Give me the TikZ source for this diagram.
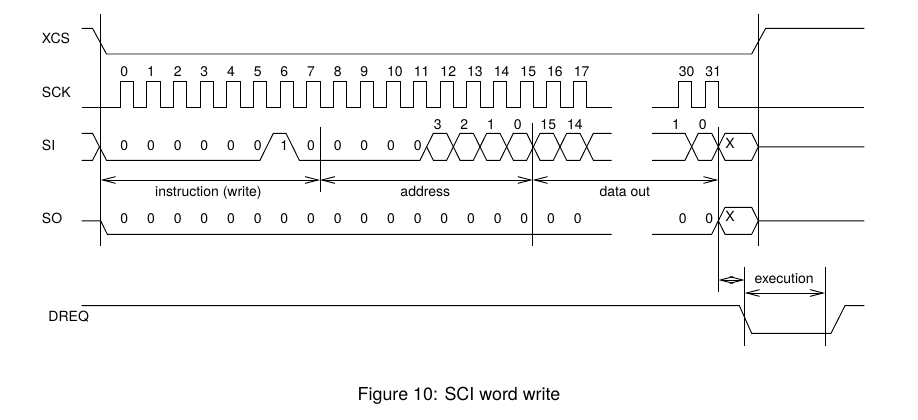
\documentclass[tikz,border=0pt]{standalone}
\usepackage{fontspec}
\setmainfont{TeX Gyre Heros}
\usetikzlibrary{arrows.meta}
\begin{document}
\begin{tikzpicture}[x=0.75pt,y=-0.75pt,line width=0.7pt,
  lbl/.style={anchor=base west,inner sep=0pt,font=\fontsize{10.5}{12}\selectfont},
  ctr/.style={anchor=base,inner sep=0pt,font=\fontsize{10.5}{12}\selectfont},
  barb/.tip={Straight Barb[length=9.75pt,width=5pt]},
  dim/.style={barb-barb},
  sig/.style={line join=miter}]
\useasboundingbox (0,0) rectangle (918,420);
% signal names
\node[lbl] (nxcs) at (41.5,44) {XCS};
\node[lbl] (nsck) at (41.5,97.7) {SCK};
\node[lbl] (nsi) at (41.5,150.7) {SI};
\node[lbl] (nso) at (41.5,223.3) {SO};
\node[lbl] (ndreq) at (48,321.7) {DREQ};
% XCS
\draw[sig] (81.67,28.3) -- (92.5,28.3) -- (106.5,54) -- (751.67,54) -- (765.67,28.3) -- (864.33,28.3);
% SCK
\draw[sig] (81.67,107.3) foreach \k in {0,...,17} { -- ({120+26.667*\k},107.3) -- ({120+26.667*\k},81) -- ({133.33+26.667*\k},81) -- ({133.33+26.667*\k},107.3) } -- (611.67,107.3);
\draw[sig] (652,107.3) -- (678.33,107.3) -- (678.33,81) -- (691.67,81) -- (691.67,107.3) -- (705,107.3) -- (705,81) -- (718.33,81) -- (718.33,107.3) -- (864.33,107.3);
\foreach \k in {0,...,17} \node[lbl] (sck\k) at ({120+26.667*\k},77) {\k};
\node[lbl] (sck30) at (678.33,77) {30};
\node[lbl] (sck31) at (705,77) {31};
% SI
\draw[sig] (81.67,133.3) -- (92.5,133.3) -- (106.5,160.3) -- (260,160.3) -- (273.33,133.3) -- (286,133.3) -- (299.33,160.3) -- (420,160.3) -- (433.33,133.3) -- (446.67,133.3) -- (460,160.3) -- (473.33,160.3) -- (486.67,133.3) -- (500,133.3) -- (513.33,160.3) -- (526.67,160.3) -- (540,133.3) -- (553.33,133.3) -- (566.67,160.3) -- (580,160.3) -- (593.33,133.3) -- (611.67,133.3);
\draw[sig] (81.67,160.3) -- (92.5,160.3) -- (99.5,146.8);
\draw[sig] (426.67,146.8) -- (433.33,160.3) -- (446.67,160.3) -- (460,133.3) -- (473.33,133.3) -- (486.67,160.3) -- (500,160.3) -- (513.33,133.3) -- (526.67,133.3) -- (540,160.3) -- (553.33,160.3) -- (566.67,133.3) -- (580,133.3) -- (593.33,160.3) -- (611.67,160.3);
\draw[sig] (652,133.3) -- (685,133.3) -- (698.33,160.3) -- (711.67,160.3) -- (725,133.3) -- (751.67,133.3) -- (758.33,146.8) -- (864.33,146.8);
\draw[sig] (652,160.3) -- (685,160.3) -- (698.33,133.3) -- (711.67,133.3) -- (725,160.3) -- (751.67,160.3) -- (758.33,146.8);
\foreach \k/\v in {0/0,1/0,2/0,3/0,4/0,5/0,6/1,7/0,8/0,9/0,10/0,11/0} \node[lbl] (si\k) at ({120+26.667*\k},150.7) {\v};
\foreach \k/\v in {12/3,13/2,14/1,15/0,16/15,17/14} \node[lbl] (sib\k) at ({113.33+26.667*\k},129.5) {\v};
\node[lbl] (sib30) at (671.67,129.5) {1};
\node[lbl] (sib31) at (698.33,129.5) {0};
\node[lbl] (six) at (725,148.5) {X};
% SO
\draw[sig] (81.67,220.8) -- (100.67,220.8) -- (107.33,234.3) -- (611.67,234.3);
\draw[sig] (652,234.3) -- (711.67,234.3) -- (725,207.3) -- (751.67,207.3) -- (758.33,220.8) -- (864.33,220.8);
\draw[sig] (718.33,220.8) -- (725,234.3) -- (751.67,234.3) -- (758.33,220.8);
\foreach \k in {0,...,17} \node[lbl] (so\k) at ({120+26.667*\k},223.3) {0};
\node[lbl] (so30) at (678.33,223.3) {0};
\node[lbl] (so31) at (705,223.3) {0};
\node[lbl] (sox) at (725,222) {X};
% DREQ
\draw[sig] (81.67,305.7) -- (739.33,305.7) -- (751.67,333.3) -- (831,333.3) -- (845,305.7) -- (864.33,305.7);
% vertical markers
\coordinate (v1t) at (100.67,14);  \coordinate (v1b) at (100.67,246);
\coordinate (v2t) at (758.33,14);  \coordinate (v2b) at (758.33,246);
\coordinate (v3t) at (320,126.7);  \coordinate (v3b) at (320,191.7);
\coordinate (v4t) at (532.7,123.3); \coordinate (v4b) at (532.7,246);
\coordinate (v5t) at (718.33,126.7); \coordinate (v5b) at (718.33,292.3);
\coordinate (v6t) at (744.67,266.7); \coordinate (v6b) at (744.67,346);
\coordinate (v7t) at (825,266.7);  \coordinate (v7b) at (825,346);
\foreach \v in {1,...,7} \draw (v\v t) -- (v\v b);
% dimension arrows
\coordinate (d1) at (100.67,180);
\coordinate (d2) at (320,180);
\coordinate (d3) at (532.7,180);
\coordinate (d4) at (718.33,180);
\draw[dim] (d1) -- (d2);
\draw[dim] (d2) -- (d3);
\draw[dim] (d3) -- (d4);
\coordinate (e1) at (718.33,280);
\coordinate (e2) at (744.67,280);
\draw[dim] (e1) -- (e2);
\coordinate (e3) at (744.67,293);
\coordinate (e4) at (825,293);
\draw[dim] (e3) -- (e4);
\node[ctr] (tinstr) at (208.3,196.3) {instruction (write)};
\node[ctr] (taddr) at (425.3,196.3) {address};
\node[ctr] (tdata) at (624.8,196.3) {data out};
\node[ctr] (texec) at (784.2,283.3) {execution};
% caption
\node[anchor=base,inner sep=0pt,font=\fontsize{13.4}{16}\selectfont] (cap) at (459,401) {Figure 10: SCI word write};
\end{tikzpicture}
\end{document}
